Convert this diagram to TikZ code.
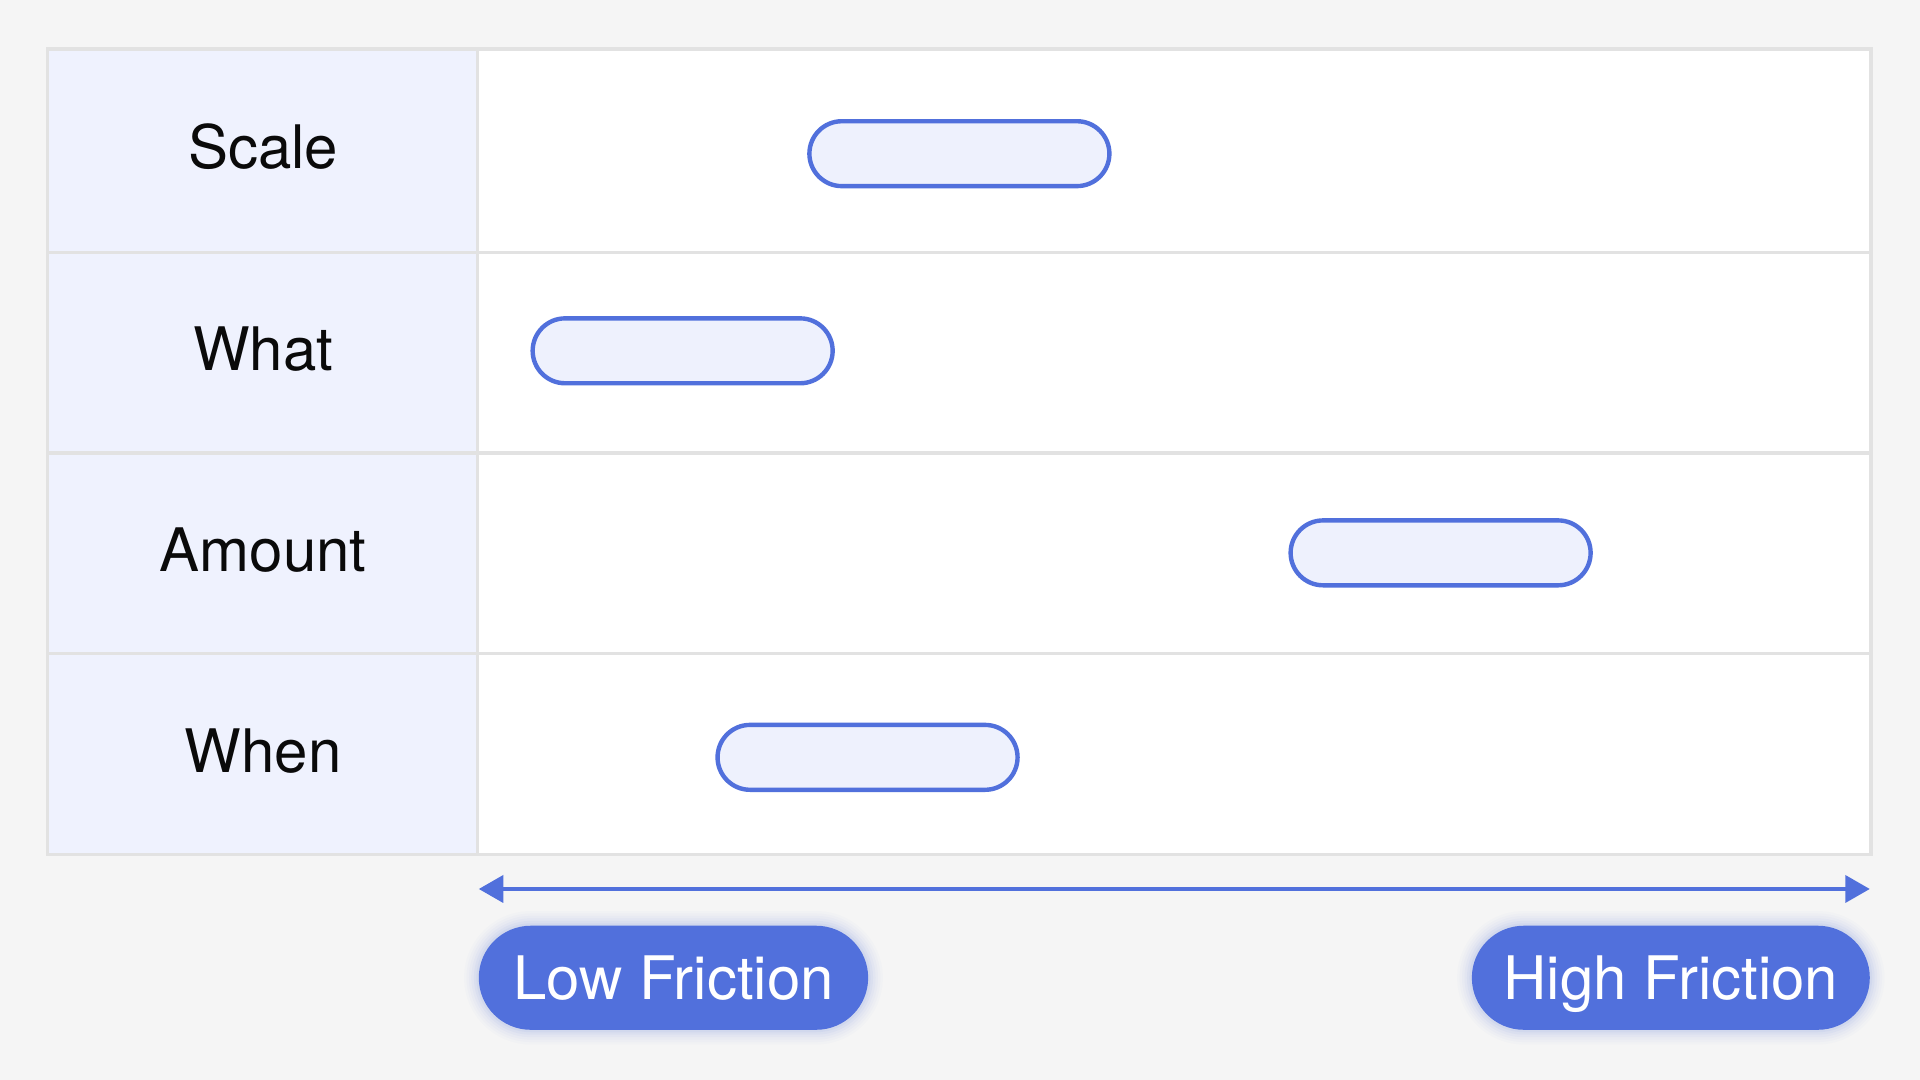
\documentclass[tikz,border=0pt]{standalone}
\usepackage{fontspec}
\setmainfont{TeX Gyre Heros}
\usetikzlibrary{arrows.meta}
\definecolor{bgc}{HTML}{F5F5F5}
\definecolor{gridc}{HTML}{E2E2E2}
\definecolor{labfill}{HTML}{EFF2FE}
\definecolor{accent}{HTML}{5170DC}
\definecolor{barfill}{HTML}{EEF1FD}
\definecolor{inkc}{HTML}{0A0A0A}
\begin{document}
\begin{tikzpicture}[x=0.5pt,y=-0.5pt,
  rowlabel/.style={anchor=base, font=\fontsize{24.5}{28}\selectfont, text=inkc},
  bar/.style={draw=accent, line width=1.8pt, fill=barfill, rounded corners=13.25pt,
    minimum width=122.5pt, minimum height=26.5pt, inner sep=0pt},
  pill/.style={fill=accent, text=white, rounded corners=21.25pt, minimum height=42.5pt,
    inner sep=0pt, text height=17.6pt, text depth=0pt, font=\fontsize{24.5}{28}\selectfont},
  gridline/.style={draw=gridc, line width=1.3pt},
  axis/.style={draw=accent, line width=1.6pt, {Triangle[length=10pt,width=11pt]}-{Triangle[length=10pt,width=11pt]}}
]
% canvas
\fill[bgc] (0,0) rectangle (1568,882);
\useasboundingbox (0,0) rectangle (1568,882);
% table
\fill[labfill] (39,40) rectangle (390,698);
\fill[white] (390,40) rectangle (1528,698);
\draw[gridline] (39,206) -- (1528,206);
\draw[gridline] (39,370) -- (1528,370);
\draw[gridline] (39,534) -- (1528,534);
\draw[gridline] (390,40) -- (390,698);
\draw[gridline] (39,40) rectangle (1528,698);
% row labels
\node[rowlabel] (lscale) at (215,138) {Scale};
\node[rowlabel] (lwhat) at (215,302.5) {What};
\node[rowlabel] (lamount) at (215,466.5) {Amount};
\node[rowlabel] (lwhen) at (215,630.5) {When};
% bars
\node[bar] (bscale) at (783.5,125.5) {};
\node[bar] (bwhat) at (557.5,286.5) {};
\node[bar] (bamount) at (1176.5,451.5) {};
\node[bar] (bwhen) at (708.5,618.5) {};
% axis
\coordinate (aleft) at (391,726);
\coordinate (aright) at (1527,726);
\draw[axis] (aleft) -- (aright);
% glow
\foreach \g/\o in {12/0.02,10/0.025,8/0.03,6/0.04,4/0.05,2/0.06}{
  \fill[accent, opacity=\o, rounded corners=21.25pt+\g*0.5pt] (391-\g,756-\g) rectangle (709+\g,841+\g);
  \fill[accent, opacity=\o, rounded corners=21.25pt+\g*0.5pt] (1202-\g,756-\g) rectangle (1527+\g,841+\g);
}
% pills
\node[pill, minimum width=159pt] (low) at (550,798.5) {Low Friction};
\node[pill, minimum width=162.5pt] (high) at (1364.5,798.5) {High Friction};
\end{tikzpicture}
\end{document}
